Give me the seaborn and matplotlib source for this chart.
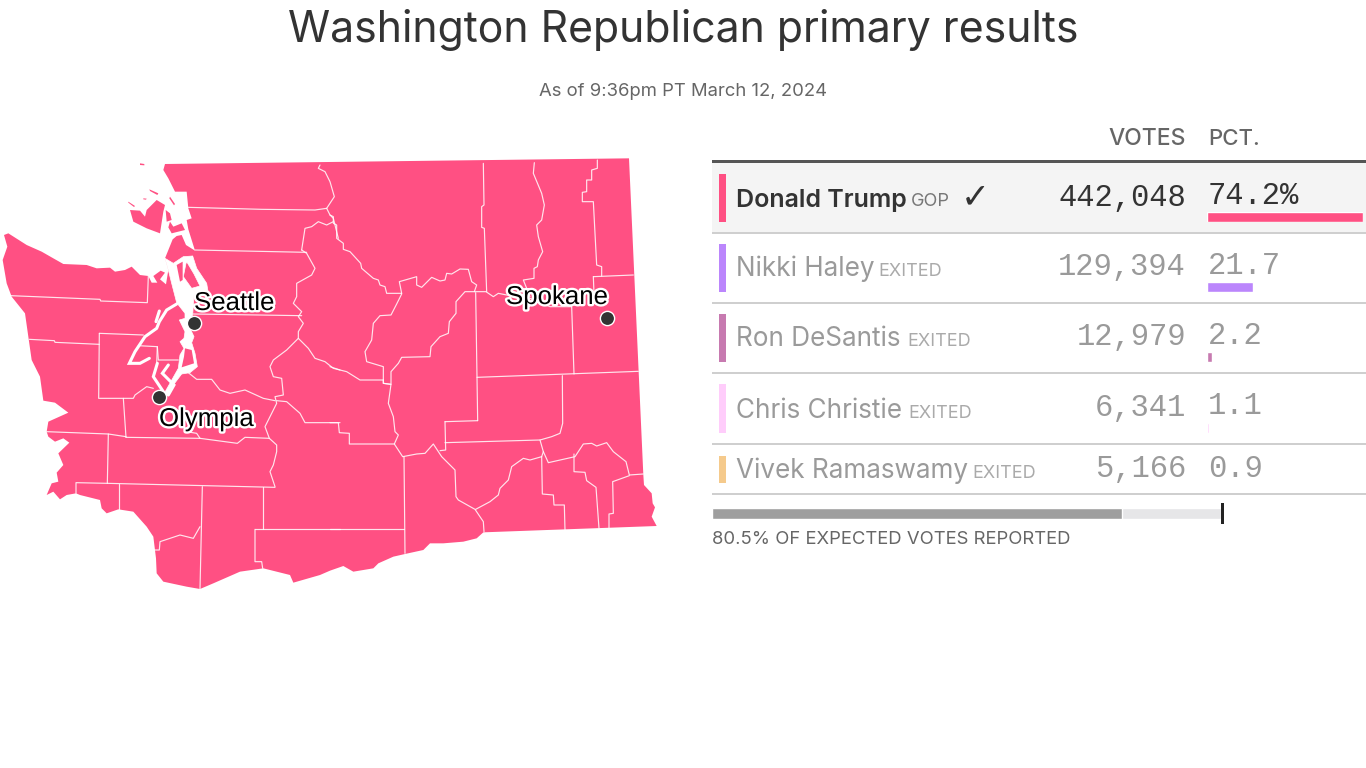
import matplotlib
matplotlib.use("Agg")
import matplotlib.pyplot as plt
from matplotlib.patches import Rectangle, Polygon
import matplotlib.patheffects as pe
import seaborn as sns

# ---- results data ----
candidates = ["Donald Trump", "Nikki Haley", "Ron DeSantis", "Chris Christie", "Vivek Ramaswamy"]
tags = ["GOP", "EXITED", "EXITED", "EXITED", "EXITED"]
votes = ["442,048", "129,394", "12,979", "6,341", "5,166"]
pct_labels = ["74.2%", "21.7", "2.2", "1.1", "0.9"]
pct_values = [74.2, 21.7, 2.2, 1.1]  # the fifth row has no bar in the source
colors = ["#ff5083", "#bb86fc", "#c77ab0", "#ffcdfb", "#f5ca8c"]
reported = 80.5
cities = ["Seattle", "Olympia", "Spokane"]

# ---- map geometry ----
# W_* arrays use the western crop units, E_* arrays the eastern crop units
E_outline = [(897,25),(940,975),(942,1005),(965,1030),(968,1060),(975,1072),(965,1100),(980,1128),(460,1147),(440,1165),
             (400,1175),(340,1180),(300,1180),(280,1200),(225,1212),(190,1220),(145,1240),(130,1255),(70,1265),(40,1248),(0,1262)]
W_outline = [(960,1275),(880,1298),(870,1275),(790,1255),(720,1265),(640,1300),(600,1317),(560,1310),(490,1295),(470,1270),
             (468,1225),(460,1160),(440,1130),(400,1085),(355,1078),(320,1090),(305,1075),(300,1050),(240,1035),(228,1030),
             (200,1035),(180,1048),(160,1025),(140,1035),(155,1000),(175,995),(170,968),(190,945),(175,910),(208,878),(190,865),
             (165,875),(145,860),(140,845),(145,815),(205,788),(165,758),(130,752),(120,680),(95,630),(85,560),(75,490),(35,440),
             (20,400),(8,330),(22,290),(12,255),(25,250),(80,285),(125,305),(160,325),(190,342),(260,345),(290,355),(330,353),
             (345,365),(375,360),(395,350),(420,375),(445,378),(455,398),(472,398),(460,378),(482,362),(495,368),(480,388),
             (498,403),(505,360),(495,325),(518,268),(530,258),(545,255),(558,285),(585,302),(575,270),(565,238),(560,210),
             (575,205),(565,175),(560,125),(525,125),(505,85),(490,60),(495,42)]
W_islands = [
    [(390,180),(420,182),(435,200),(440,180),(470,150),(495,165),(490,185),(480,250),(440,235),(400,215)],
    [(510,215),(520,230),(545,220),(555,240),(515,250),(505,232)],
    [(497,180),(510,190),(515,210),(500,215)],
    [(448,118),(475,130),(472,135),(450,123)],
    [(385,155),(405,168),(402,171),(385,158)],
    [(420,40),(433,42),(433,46),(420,45)],
    [(430,145),(440,146),(438,149),(430,148)],
    [(510,140),(525,162),(522,166),(508,145)],
]
W_water = [
    [(495,325),(520,340),(550,320),(578,318),(558,340),(550,380),(575,415),(590,432),(582,436),(578,495),(568,510),(570,535),
     (582,560),(575,578),(585,610),(592,650),(570,668),(545,672),(520,705),(498,740),(490,735),(535,655),(540,615),(552,595),
     (540,575),(552,565),(555,545),(538,510),(555,505),(555,490),(530,458),(515,400),(505,360)],
    [(578,318),(590,355),(620,400),(625,430),(590,432),(575,415),(600,408),(582,372),(560,335)],
]
W_land_in_water = [
    [(555,595),(575,600),(582,640),(545,652),(552,620)],
    [(530,345),(548,335),(548,390),(540,395)],
]
W_inlets = [
    [(530,462),(500,480),(478,515),(470,535),(435,560),(405,605),(388,640),(420,640),(448,625)],
    [(478,483),(468,515)],
    [(505,645),(487,670),(522,705),(505,735)],
    [(472,640),(460,680),(488,722),(497,735)],
]
W_lines = [
    [(565,172),(785,178),(945,180),(980,175),(1003,140),(990,95),(975,65),(955,55),(960,45)],
    [(980,175),(990,195),(1000,205),(1005,225),(1015,265)],
    [(585,300),(920,307)],
    [(905,300),(920,310),(945,355),(935,375),(890,400),(890,440),(880,460),(905,485),(895,500),(910,520),(895,545),(895,565),(925,595),(945,625),(975,635),(1000,655),(1020,660)],
    [(905,300),(915,235),(935,230),(955,215),(980,225),(1000,215)],
    [(580,492),(905,497)],
    [(565,668),(590,688),(635,688),(660,720),(690,730),(735,720),(790,745),(825,752)],
    [(895,565),(860,600),(820,630),(810,650),(820,680),(845,685),(850,735),(825,740),(830,760),(805,810),(795,830),(808,865),(830,885),(830,905),(820,945),(810,965),(825,1010)],
    [(830,752),(860,755),(900,790),(915,818),(1020,818)],
    [(378,862),(600,865),(712,880),(735,862),(808,865)],
    [(560,845),(590,850),(600,865)],
    [(298,745),(400,745),(405,735),(440,710),(460,715)],
    [(370,745),(378,862)],
    [(140,845),(325,852),(378,860)],
    [(325,852),(322,1000),(228,998),(228,1030)],
    [(322,1000),(825,1012)],
    [(358,1003),(358,1080)],
    [(607,1010),(600,1317)],
    [(600,1130),(580,1165),(540,1155),(480,1175),(478,1200),(462,1200)],
    [(790,1010),(790,1138)],
    [(765,1138),(1020,1138)],
    [(765,1138),(765,1235),(785,1235),(788,1255)],
    [(32,437),(300,448),(302,453),(442,458),(445,378)],
    [(298,550),(430,555)],
    [(298,550),(296,745)],
    [(415,587),(472,590),(475,630),(535,630)],
    [(472,590),(470,640)],
    [(88,568),(163,572),(165,577),(298,583)],
]
E_lines = [
    [(0,195),(10,200),(10,220),(20,225),(20,265),(40,280),(40,298),(60,305),(92,340),(95,355),(130,385),(145,390),(150,405),(165,410),(170,430),(215,430)],
    [(0,650),(30,660),(50,665),(90,690),(160,690)],
    [(0,818),(25,818),(28,848),(58,850),(58,882),(193,882)],
    [(0,1138),(222,1138)],
    [(222,920),(225,1210)],
    [(460,40),(462,165),(455,170),(455,232),(463,235),(470,425)],
    [(613,38),(610,70),(635,130),(643,165),(635,210),(620,225),(625,260),(638,305),(625,330),(622,350),(612,355),(612,385),(580,390),(590,415),(600,440)],
    [(802,30),(802,55),(785,60),(785,90),(770,90),(770,125),(757,127),(757,155),(790,155),(800,345),(815,350),(815,378)],
    [(790,380),(910,375)],
    [(790,380),(792,430)],
    [(725,470),(732,672)],
    [(437,428),(441,682),(443,812)],
    [(441,682),(925,664)],
    [(697,677),(698,820),(690,850),(665,860),(630,870),(345,878)],
    [(345,815),(443,812)],
    [(345,815),(347,900),(330,902)],
    [(215,430),(208,395),(260,380),(260,405),(275,412),(305,382),(330,393),(345,390),(350,370),(365,372),(390,357),(415,358),(425,395),(440,405),(433,425),(405,425),(378,455),(378,490),(358,515),(355,550),(330,560),(303,590),(300,620),(215,622),(205,640),(183,665),(183,703),(160,700),(160,650),(110,635),(105,605),(125,570),(130,520),(150,497),(183,495),(200,462),(215,432)],
    [(433,425),(468,425),(490,440),(505,430),(530,435),(580,440),(600,445),(660,470),(725,470)],
    [(160,690),(160,700),(183,703),(175,760),(190,800),(195,845),(205,855),(193,882),(218,920),(260,912),(285,910),(310,882),(335,920),(375,960),(378,1040),(385,1050),(435,1078),(460,1115),(462,1145)],
    [(437,1078),(480,1055),(505,1035),(510,1015),(535,990),(545,950),(580,925),(600,930),(635,920),(640,905),(630,870)],
    [(640,905),(655,938),(735,920),(760,882),(785,880),(800,888),(830,878),(850,905),(888,935),(898,975),(940,972)],
    [(635,920),(637,1032),(670,1035),(672,1065),(703,1065),(705,1140)],
    [(732,912),(732,965),(765,967),(770,992),(798,1012),(807,1135)],
    [(898,977),(848,995),(850,1090),(837,1092),(837,1135)],
]

# ---- layout ----
W, H = 1366, 768
INK = "#333333"
GREY = "#9a9a9a"
row_seps = [233, 303, 373, 444, 494]
swatch_spans = [(174, 222), (244, 292), (314, 362), (384, 433), (456, 483)]
bar_spans = [(212, 222), (282, 292), (352, 362), (423, 433)]
name_y = [200, 269, 339, 411, 471]
tag_gap_x = [911, 878, 907, 908, 972]
name_colors = [INK, GREY, GREY, GREY, GREY]
tag_colors = ["#777777", "#aaaaaa", "#aaaaaa", "#aaaaaa", "#aaaaaa"]
votes_y = [198, 267, 337, 408, 469]
pct_y = [196, 266, 336, 406, 469]
city_dots = [(194, 323), (159, 397), (607, 318)]
city_labels = [(194, 303), (159, 419), (506, 297)]

def west(pts):
    return [(x / 3, 150 + y / 3) for x, y in pts]

def east(pts):
    return [(330 + x / 3, 150 + y / 3) for x, y in pts]

sns.set_theme(style="white")
plt.rcParams["font.family"] = ["Inter", "DejaVu Sans"]
fig = plt.figure(figsize=(W / 100, H / 100), dpi=100, facecolor="white")
ax = fig.add_axes([0, 0, 1, 1])
ax.set_xlim(0, W)
ax.set_ylim(H, 0)
ax.axis("off")

def inset(x0, x1, y0, y1):
    a = fig.add_axes([x0 / W, 1 - y1 / H, (x1 - x0) / W, (y1 - y0) / H], facecolor="none")
    return a

# ---- title ----
ax.text(683, 30, "Washington Republican primary results", ha="center", va="center",
        fontsize=30.8, color=INK)
ax.text(683, 92, "As of 9:36pm PT March 12, 2024", ha="center", va="center",
        fontsize=13.3, color="#666666")

# ---- map ----
PINK = colors[0]
ax.add_patch(Polygon(west([(495, 42)]) + east(E_outline) + west(W_outline), closed=True, fc=PINK, ec="none", zorder=1))
for shape in W_islands:
    ax.add_patch(Polygon(west(shape), closed=True, fc=PINK, ec="none", zorder=1))
for shape in W_water:
    ax.add_patch(Polygon(west(shape), closed=True, fc="white", ec="white", lw=0.5, zorder=2))
for shape in W_land_in_water:
    ax.add_patch(Polygon(west(shape), closed=True, fc=PINK, ec="none", zorder=3))
for line in W_inlets:
    pts = west(line)
    ax.plot([p[0] for p in pts], [p[1] for p in pts], color="white", lw=2.2, solid_joinstyle="miter", zorder=3)
for line in [west(l) for l in W_lines] + [east(l) for l in E_lines]:
    ax.plot([p[0] for p in line], [p[1] for p in line], color="white", alpha=0.85, lw=0.85, zorder=4)

halo = [pe.withStroke(linewidth=3.4, foreground="white")]
for (dx, dy), (lx, ly), city in zip(city_dots, city_labels, cities):
    ax.scatter([dx], [dy], s=105, color=INK, edgecolors="white", linewidths=1.0, zorder=6)
    ax.text(lx, ly, city, ha="left", va="center", fontsize=18.6, color="black",
            family=["Liberation Sans"], path_effects=halo, zorder=7)

# ---- table ----
ax.text(1186, 139, "VOTES", ha="right", va="center", fontsize=16.5, color="#666666", fontweight="medium")
ax.text(1208, 139, "PCT.", ha="left", va="center", fontsize=16, color="#666666", fontweight="medium")
ax.add_patch(Rectangle((712, 163), W - 712, 69, fc="#f4f4f4", ec="none", zorder=0))
ax.add_patch(Rectangle((712, 160), W - 712, 3, fc="#555555", ec="none", zorder=1))
for sep in row_seps:
    ax.add_patch(Rectangle((712, sep - 1), W - 712, 2, fc="#cfcfcf", ec="none", zorder=1))

for i, name in enumerate(candidates):
    y0, y1 = swatch_spans[i]
    ax.add_patch(Rectangle((719, y0), 7, y1 - y0, fc=colors[i], ec="none", zorder=2))
    ax.text(736, name_y[i], name, ha="left", va="center", fontsize=18 if i == 0 else 18.8, color=name_colors[i],
            fontweight="semibold" if i == 0 else "normal")
    ax.text(tag_gap_x[i], name_y[i] + 2, tags[i], ha="left", va="center", fontsize=13, color=tag_colors[i])
    ax.text(1186, votes_y[i], votes[i], ha="right", va="center", fontsize=22, color=name_colors[i],
            family=["Liberation Mono"])
    ax.text(1208, pct_y[i], pct_labels[i], ha="left", va="center", fontsize=22, color=name_colors[i],
            family=["Liberation Mono"])
ax.text(961, 197, "\u2713", ha="left", va="center", fontsize=25, color=INK, family=["DejaVu Sans"])

# percentage bars share one scale: full column width = the leader's share
for value, span, color, name in zip(pct_values, bar_spans, colors, candidates):
    a = inset(1207, 1363, span[0], span[1])
    sns.barplot(x=[value], y=[name], color=color, width=1, saturation=1, ax=a, orient="h")
    a.set_xlim(0, max(pct_values))
    a.set_ylim(0.5, -0.5)
    a.axis("off")

# ---- reporting progress ----
a = inset(712, 1221, 508, 519)
sns.barplot(x=[100], y=["expected"], color="#e6e6e8", width=1, saturation=1, ax=a, orient="h")
sns.barplot(x=[reported], y=["expected"], color="#9e9e9e", width=1, saturation=1, ax=a, orient="h")
a.set_xlim(0, 100)
a.set_ylim(0.5, -0.5)
a.axis("off")
ax.add_patch(Rectangle((1221, 503), 2.5, 21, fc="#222222", ec="none", zorder=3))
ax.text(712, 539, f"{reported}% OF EXPECTED VOTES REPORTED", ha="left", va="center", fontsize=13.3, color="#666666")

fig.savefig("out.png", dpi=100, facecolor="white")
